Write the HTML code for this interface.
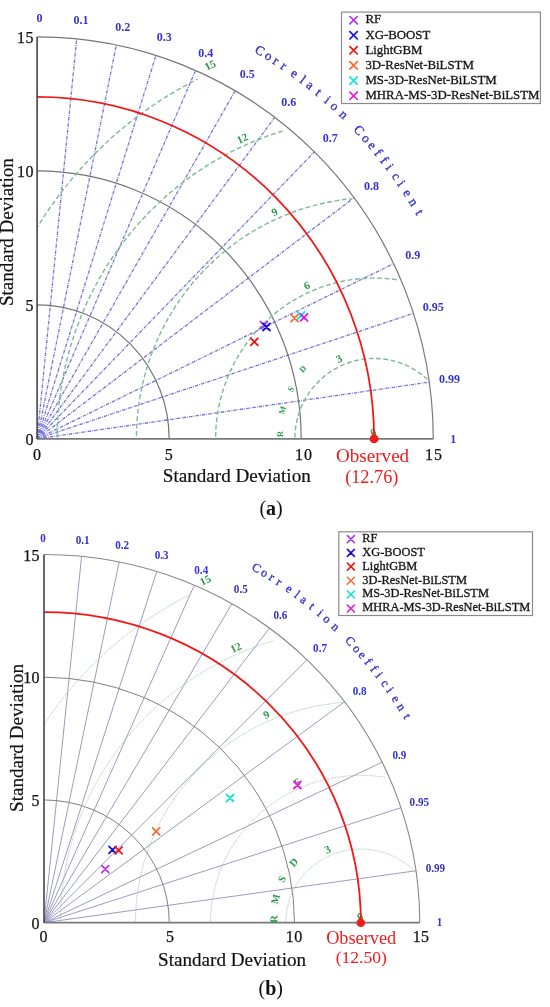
<!DOCTYPE html>
<html><head><meta charset="utf-8"><style>
html,body{margin:0;padding:0;background:#fff;}
svg{display:block;}
text{font-family:"Liberation Serif","DejaVu Serif",serif;}
.cla{stroke:#7474d6;stroke-width:1.3;stroke-dasharray:3.4,1.1,0.8,1.1;fill:none;}
.clb{stroke:#9090bb;stroke-width:0.9;fill:none;}
.saa{stroke:#747474;stroke-width:1.2;fill:none;}
.sab{stroke:#808080;stroke-width:1;fill:none;}
.oaa{stroke:#777;stroke-width:1.2;fill:none;}
.oab{stroke:#888;stroke-width:1.1;fill:none;}
.rma{stroke:#7dbb94;stroke-width:1.4;stroke-dasharray:4.8,2.6;fill:none;}
.rmb{stroke:#94c8a0;stroke-width:1;stroke-dasharray:0.9,0.8;fill:none;}
.oba,.obb{stroke:#f51515;stroke-width:1.8;fill:none;}
.axa,.axb{stroke:#444;stroke-width:1.6;fill:none;}
.bxa,.bxb{stroke:#7a7a7a;stroke-width:1.8;fill:none;}
.rsb{font-size:10.5px !important;}
.cLb{font-size:12px !important;}
.cLa,.cLb{fill:#3434d0;font-size:13.4px;font-weight:bold;text-anchor:middle;dominant-baseline:central;}
.rLa,.rLb{fill:#2a9a4a;font-size:11px;font-weight:bold;text-anchor:middle;dominant-baseline:central;}
.rsa,.rsb{fill:#2a9a4a;font-size:8.5px;font-weight:bold;}
.cca,.ccb{fill:#3535c8;font-size:13px;stroke:#3535c8;stroke-width:0.35px;}
.ccb{font-size:12.2px;}
.lg{fill:#151515;stroke:#151515;stroke-width:0.3px;}
.tk{fill:#111;font-size:16px;stroke:#111;stroke-width:0.25px;}
.ttl{fill:#111;font-size:19.1px;stroke:#111;stroke-width:0.2px;}
.obs{fill:#f01c1c;font-size:18.3px;}
.obsb{fill:#f01c1c;font-size:17.6px;}
.cap{fill:#111;font-size:20px;}
.cap tspan{font-weight:bold;}
</style></head>
<body><svg width="550" height="1007" viewBox="0 0 550 1007">
<rect width="550" height="1007" fill="#fff"/>
<clipPath id="qa"><path d="M37.10,438.80 L37.10,36.95 A396.15,401.85 0 0 1 433.25,438.80 Z"/></clipPath>
<line x1="37.10" y1="438.80" x2="76.72" y2="38.96" class="cla"/>
<line x1="37.10" y1="438.80" x2="116.33" y2="45.07" class="cla"/>
<line x1="37.10" y1="438.80" x2="155.94" y2="55.46" class="cla"/>
<line x1="37.10" y1="438.80" x2="195.56" y2="70.50" class="cla"/>
<line x1="37.10" y1="438.80" x2="235.17" y2="90.79" class="cla"/>
<line x1="37.10" y1="438.80" x2="274.79" y2="117.32" class="cla"/>
<line x1="37.10" y1="438.80" x2="314.41" y2="151.82" class="cla"/>
<line x1="37.10" y1="438.80" x2="354.02" y2="197.69" class="cla"/>
<line x1="37.10" y1="438.80" x2="393.64" y2="263.64" class="cla"/>
<line x1="37.10" y1="438.80" x2="413.44" y2="313.32" class="cla"/>
<line x1="37.10" y1="438.80" x2="429.29" y2="382.11" class="cla"/>
<path d="M37.10,304.85 A132.05,133.95 0 0 1 169.15,438.80" class="saa"/>
<path d="M37.10,170.90 A264.10,267.90 0 0 1 301.20,438.80" class="saa"/>
<clipPath id="qa3"><path d="M37.10,438.80 L37.10,36.95 A396.15,401.85 0 0 1 433.25,438.80 Z"/></clipPath>
<ellipse cx="374.09" cy="438.80" rx="79.23" ry="80.37" class="rma" clip-path="url(#qa3)"/>
<clipPath id="qa6"><path d="M37.10,438.80 L37.10,39.36 A393.77,399.44 0 0 1 430.87,438.80 Z"/></clipPath>
<ellipse cx="374.09" cy="438.80" rx="158.46" ry="160.74" class="rma" clip-path="url(#qa6)"/>
<clipPath id="qa9"><path d="M37.10,438.80 L37.10,39.36 A393.77,399.44 0 0 1 430.87,438.80 Z"/></clipPath>
<ellipse cx="374.09" cy="438.80" rx="237.69" ry="241.11" class="rma" clip-path="url(#qa9)"/>
<clipPath id="qa12"><path d="M37.10,438.80 L37.10,42.58 A390.60,396.22 0 0 1 427.70,438.80 Z"/></clipPath>
<ellipse cx="374.09" cy="438.80" rx="316.92" ry="321.48" class="rma" clip-path="url(#qa12)"/>
<clipPath id="qa15"><path d="M37.10,438.80 L37.10,44.18 A389.02,394.62 0 0 1 426.12,438.80 Z"/></clipPath>
<ellipse cx="374.09" cy="438.80" rx="396.15" ry="401.85" class="rma" clip-path="url(#qa15)"/>
<text x="373.19" y="432.20" class="rLa" transform="rotate(-26.0 373.19 432.20)">0</text>
<text x="338.86" y="358.53" class="rLa" transform="rotate(-26.0 338.86 358.53)">3</text>
<text x="306.63" y="285.10" class="rLa" transform="rotate(-26.0 306.63 285.10)">6</text>
<text x="274.41" y="211.68" class="rLa" transform="rotate(-26.0 274.41 211.68)">9</text>
<text x="242.18" y="138.26" class="rLa" transform="rotate(-26.0 242.18 138.26)">12</text>
<text x="209.96" y="64.84" class="rLa" transform="rotate(-26.0 209.96 64.84)">15</text>
<path d="M37.10,36.95 A396.15,401.85 0 0 1 433.25,438.80" class="oaa"/>
<path d="M37.10,96.96 A336.99,341.84 0 0 1 374.09,438.80" class="oba"/>
<path d="M37.10,438.80 L433.25,438.80" class="bxa"/>
<path d="M37.10,36.95 L37.10,438.80" class="axa"/>
<text transform="translate(39.50 17.89) scale(0.9 1)" class="cLa">0</text>
<text transform="translate(81.11 20.00) scale(0.9 1)" class="cLa">0.1</text>
<text transform="translate(122.70 26.39) scale(0.9 1)" class="cLa">0.2</text>
<text transform="translate(164.26 37.26) scale(0.9 1)" class="cLa">0.3</text>
<text transform="translate(205.79 53.00) scale(0.9 1)" class="cLa">0.4</text>
<text transform="translate(247.29 74.24) scale(0.9 1)" class="cLa">0.5</text>
<text transform="translate(288.75 102.01) scale(0.9 1)" class="cLa">0.6</text>
<text transform="translate(330.17 138.12) scale(0.9 1)" class="cLa">0.7</text>
<text transform="translate(371.52 186.13) scale(0.9 1)" class="cLa">0.8</text>
<text transform="translate(412.75 255.16) scale(0.9 1)" class="cLa">0.9</text>
<text transform="translate(433.26 307.16) scale(0.9 1)" class="cLa">0.95</text>
<text transform="translate(449.50 379.17) scale(0.9 1)" class="cLa">0.99</text>
<text transform="translate(453.32 438.50) scale(0.9 1)" class="cLa">1</text>
<text class="rsa" x="282.64 284.06 292.16 302.67" y="437.33 414.73 392.39 373.34" rotate="-87.2 -72.8 -59.4 -46.1">RMSD</text>
<text class="cca" x="254.08 263.73 272.00 279.64 289.73 298.98 305.20 314.55 323.41 329.47 338.38 348.37 352.90 361.02 367.18 373.77 379.87 385.28 391.20 396.98 402.54 408.25 414.93" y="52.07 57.81 63.00 68.03 75.03 81.82 86.61 94.14 101.68 107.08 115.38 125.25 129.96 138.75 145.73 153.54 161.12 168.14 176.16 184.37 192.66 201.62 212.73" rotate="30.2 31.5 32.7 33.9 35.5 36.9 38.0 39.5 41.0 42.2 43.8 45.2 46.6 48.0 49.2 50.4 51.7 52.8 54.2 55.4 56.8 58.2 59.7">Correlation Coefficient</text>
<clipPath id="qb"><path d="M44.00,922.70 L44.00,554.45 A375.75,368.25 0 0 1 419.75,922.70 Z"/></clipPath>
<line x1="44.00" y1="922.70" x2="81.58" y2="556.30" class="clb"/>
<line x1="44.00" y1="922.70" x2="119.15" y2="561.89" class="clb"/>
<line x1="44.00" y1="922.70" x2="156.72" y2="571.41" class="clb"/>
<line x1="44.00" y1="922.70" x2="194.30" y2="585.19" class="clb"/>
<line x1="44.00" y1="922.70" x2="231.87" y2="603.79" class="clb"/>
<line x1="44.00" y1="922.70" x2="269.45" y2="628.10" class="clb"/>
<line x1="44.00" y1="922.70" x2="307.03" y2="659.72" class="clb"/>
<line x1="44.00" y1="922.70" x2="344.60" y2="701.75" class="clb"/>
<line x1="44.00" y1="922.70" x2="382.18" y2="762.18" class="clb"/>
<line x1="44.00" y1="922.70" x2="400.96" y2="807.71" class="clb"/>
<line x1="44.00" y1="922.70" x2="415.99" y2="870.75" class="clb"/>
<path d="M44.00,799.95 A125.25,122.75 0 0 1 169.25,922.70" class="sab"/>
<path d="M44.00,677.20 A250.50,245.50 0 0 1 294.50,922.70" class="sab"/>
<clipPath id="qb3"><path d="M44.00,922.70 L44.00,554.45 A375.75,368.25 0 0 1 419.75,922.70 Z"/></clipPath>
<ellipse cx="360.88" cy="922.70" rx="75.15" ry="73.65" class="rmb" clip-path="url(#qb3)"/>
<clipPath id="qb6"><path d="M44.00,922.70 L44.00,557.64 A372.49,365.06 0 0 1 416.49,922.70 Z"/></clipPath>
<ellipse cx="360.88" cy="922.70" rx="150.30" ry="147.30" class="rmb" clip-path="url(#qb6)"/>
<clipPath id="qb9"><path d="M44.00,922.70 L44.00,555.68 A374.50,367.02 0 0 1 418.50,922.70 Z"/></clipPath>
<ellipse cx="360.88" cy="922.70" rx="225.45" ry="220.95" class="rmb" clip-path="url(#qb9)"/>
<clipPath id="qb12"><path d="M44.00,922.70 L44.00,561.82 A368.24,360.88 0 0 1 412.24,922.70 Z"/></clipPath>
<ellipse cx="360.88" cy="922.70" rx="300.60" ry="294.60" class="rmb" clip-path="url(#qb12)"/>
<clipPath id="qb15"><path d="M44.00,922.70 L44.00,564.27 A365.73,358.43 0 0 1 409.73,922.70 Z"/></clipPath>
<ellipse cx="360.88" cy="922.70" rx="375.75" ry="368.25" class="rmb" clip-path="url(#qb15)"/>
<text x="359.98" y="916.10" class="rLb" transform="rotate(-26.0 359.98 916.10)">0</text>
<text x="327.46" y="849.14" class="rLb" transform="rotate(-26.0 327.46 849.14)">3</text>
<text x="296.90" y="781.86" class="rLb" transform="rotate(-26.0 296.90 781.86)">6</text>
<text x="266.33" y="714.57" class="rLb" transform="rotate(-26.0 266.33 714.57)">9</text>
<text x="235.76" y="647.29" class="rLb" transform="rotate(-26.0 235.76 647.29)">12</text>
<text x="205.20" y="580.01" class="rLb" transform="rotate(-26.0 205.20 580.01)">15</text>
<path d="M44.00,554.45 A375.75,368.25 0 0 1 419.75,922.70" class="oab"/>
<path d="M44.00,612.14 A316.88,310.56 0 0 1 360.88,922.70" class="obb"/>
<path d="M44.00,922.70 L419.75,922.70" class="bxb"/>
<path d="M44.00,554.45 L44.00,922.70" class="axb"/>
<text transform="translate(43.10 538.05) scale(0.93 1)" class="cLb">0</text>
<text transform="translate(82.61 539.97) scale(0.93 1)" class="cLb">0.1</text>
<text transform="translate(122.14 545.81) scale(0.93 1)" class="cLb">0.2</text>
<text transform="translate(161.68 555.75) scale(0.93 1)" class="cLb">0.3</text>
<text transform="translate(201.23 570.14) scale(0.93 1)" class="cLb">0.4</text>
<text transform="translate(240.81 589.55) scale(0.93 1)" class="cLb">0.5</text>
<text transform="translate(280.40 614.94) scale(0.93 1)" class="cLb">0.6</text>
<text transform="translate(320.03 647.95) scale(0.93 1)" class="cLb">0.7</text>
<text transform="translate(359.69 691.83) scale(0.93 1)" class="cLb">0.8</text>
<text transform="translate(399.42 754.92) scale(0.93 1)" class="cLb">0.9</text>
<text transform="translate(419.35 802.45) scale(0.93 1)" class="cLb">0.95</text>
<text transform="translate(435.39 868.27) scale(0.93 1)" class="cLb">0.99</text>
<text transform="translate(439.54 922.50) scale(0.93 1)" class="cLb">1</text>
<text class="rsb" x="277.17 277.61 283.53 293.70" y="923.06 904.78 883.36 867.52" rotate="-87.6 -74.2 -60.6 -47.5">RMSD</text>
<text class="ccb" x="250.98 260.10 267.92 275.15 284.69 293.42 299.31 308.15 316.52 322.25 330.67 340.08 344.39 352.06 357.87 364.08 369.84 374.94 380.53 385.98 391.23 396.62 402.91" y="569.18 574.48 579.27 583.90 590.33 596.60 600.98 607.93 614.86 619.80 627.43 636.55 640.81 648.90 655.32 662.51 669.47 675.92 683.26 690.83 698.41 706.63 716.85" rotate="30.4 31.7 32.9 34.1 35.7 37.1 38.2 39.7 41.2 42.4 44.0 45.4 46.8 48.2 49.4 50.6 51.9 53.0 54.4 55.6 57.0 58.4 59.9">Correlation Coefficient</text>
<path d="M260.40,321.60 L267.40,328.60 M260.40,328.60 L267.40,321.60" stroke="#b434f0" stroke-width="1.9" stroke-linecap="round" fill="none"/>
<path d="M263.00,323.50 L270.00,330.50 M263.00,330.50 L270.00,323.50" stroke="#1212e0" stroke-width="1.9" stroke-linecap="round" fill="none"/>
<path d="M250.80,338.30 L257.80,345.30 M250.80,345.30 L257.80,338.30" stroke="#f41414" stroke-width="1.9" stroke-linecap="round" fill="none"/>
<path d="M291.00,314.60 L298.00,321.60 M291.00,321.60 L298.00,314.60" stroke="#fa6a36" stroke-width="1.9" stroke-linecap="round" fill="none"/>
<path d="M297.60,312.00 L304.60,319.00 M297.60,319.00 L304.60,312.00" stroke="#18e4dc" stroke-width="1.9" stroke-linecap="round" fill="none"/>
<path d="M300.50,313.80 L307.50,320.80 M300.50,320.80 L307.50,313.80" stroke="#e818e0" stroke-width="1.9" stroke-linecap="round" fill="none"/>
<path d="M101.80,865.70 L108.80,872.70 M101.80,872.70 L108.80,865.70" stroke="#b434f0" stroke-width="1.8" stroke-linecap="round" fill="none"/>
<path d="M109.00,846.40 L116.00,853.40 M109.00,853.40 L116.00,846.40" stroke="#1212e0" stroke-width="1.8" stroke-linecap="round" fill="none"/>
<path d="M115.20,846.90 L122.20,853.90 M115.20,853.90 L122.20,846.90" stroke="#f41414" stroke-width="1.8" stroke-linecap="round" fill="none"/>
<path d="M152.70,827.80 L159.70,834.80 M152.70,834.80 L159.70,827.80" stroke="#fa6a36" stroke-width="1.8" stroke-linecap="round" fill="none"/>
<path d="M226.50,794.50 L233.50,801.50 M226.50,801.50 L233.50,794.50" stroke="#18e4dc" stroke-width="1.8" stroke-linecap="round" fill="none"/>
<path d="M293.90,781.50 L300.90,788.50 M293.90,788.50 L300.90,781.50" stroke="#e818e0" stroke-width="1.8" stroke-linecap="round" fill="none"/>
<circle cx="374.1" cy="438.9" r="4.4" fill="#f01c1c"/>
<circle cx="360.8" cy="922.7" r="4.3" fill="#f01c1c"/>
<rect x="341.5" y="12.1" width="198.90" height="91.40" fill="#fff" stroke="#8a8a8a" stroke-width="1.2"/>
<path d="M349.90,16.50 L357.30,23.90 M349.90,23.90 L357.30,16.50" stroke="#b434f0" stroke-width="1.7" stroke-linecap="round" fill="none"/>
<text x="365.4" y="23.3" class="lg" style="font-size:12.85px">RF</text>
<path d="M349.90,31.60 L357.30,39.00 M349.90,39.00 L357.30,31.60" stroke="#1212e0" stroke-width="1.7" stroke-linecap="round" fill="none"/>
<text x="365.4" y="38.5" class="lg" style="font-size:12.85px">XG-BOOST</text>
<path d="M349.90,46.60 L357.30,54.00 M349.90,54.00 L357.30,46.60" stroke="#f41414" stroke-width="1.7" stroke-linecap="round" fill="none"/>
<text x="365.4" y="53.6" class="lg" style="font-size:12.85px">LightGBM</text>
<path d="M349.90,61.70 L357.30,69.10 M349.90,69.10 L357.30,61.70" stroke="#fa6a36" stroke-width="1.7" stroke-linecap="round" fill="none"/>
<text x="365.4" y="68.5" class="lg" style="font-size:12.85px">3D-ResNet-BiLSTM</text>
<path d="M349.90,76.90 L357.30,84.30 M349.90,84.30 L357.30,76.90" stroke="#18e4dc" stroke-width="1.7" stroke-linecap="round" fill="none"/>
<text x="365.4" y="83.6" class="lg" style="font-size:12.85px">MS-3D-ResNet-BiLSTM</text>
<path d="M349.90,92.10 L357.30,99.50 M349.90,99.50 L357.30,92.10" stroke="#e818e0" stroke-width="1.7" stroke-linecap="round" fill="none"/>
<text x="365.4" y="98.7" class="lg" style="font-size:12.85px">MHRA-MS-3D-ResNet-BiLSTM</text>
<rect x="338.8" y="531.8" width="193.70" height="83.70" fill="#fff" stroke="#8a8a8a" stroke-width="1.2"/>
<path d="M347.40,535.60 L354.40,542.60 M347.40,542.60 L354.40,535.60" stroke="#b434f0" stroke-width="1.6" stroke-linecap="round" fill="none"/>
<text x="362.3" y="542.1" class="lg" style="font-size:12.4px">RF</text>
<path d="M347.40,549.40 L354.40,556.40 M347.40,556.40 L354.40,549.40" stroke="#1212e0" stroke-width="1.6" stroke-linecap="round" fill="none"/>
<text x="362.3" y="556.1" class="lg" style="font-size:12.4px">XG-BOOST</text>
<path d="M347.40,563.10 L354.40,570.10 M347.40,570.10 L354.40,563.10" stroke="#f41414" stroke-width="1.6" stroke-linecap="round" fill="none"/>
<text x="362.3" y="569.8" class="lg" style="font-size:12.4px">LightGBM</text>
<path d="M347.40,577.20 L354.40,584.20 M347.40,584.20 L354.40,577.20" stroke="#fa6a36" stroke-width="1.6" stroke-linecap="round" fill="none"/>
<text x="362.3" y="583.6" class="lg" style="font-size:12.4px">3D-ResNet-BiLSTM</text>
<path d="M347.40,591.00 L354.40,598.00 M347.40,598.00 L354.40,591.00" stroke="#18e4dc" stroke-width="1.6" stroke-linecap="round" fill="none"/>
<text x="362.3" y="597.3" class="lg" style="font-size:12.4px">MS-3D-ResNet-BiLSTM</text>
<path d="M347.40,605.00 L354.40,612.00 M347.40,612.00 L354.40,605.00" stroke="#e818e0" stroke-width="1.6" stroke-linecap="round" fill="none"/>
<text x="362.3" y="611.1" class="lg" style="font-size:12.4px">MHRA-MS-3D-ResNet-BiLSTM</text>
<text x="37.1" y="454.5" class="tk" style="letter-spacing:0px" text-anchor="middle" dominant-baseline="central">0</text>
<text x="168.7" y="454.5" class="tk" style="letter-spacing:0px" text-anchor="middle" dominant-baseline="central">5</text>
<text x="304.0" y="454.5" class="tk" style="letter-spacing:1.0px" text-anchor="middle" dominant-baseline="central">10</text>
<text x="434.1" y="454.5" class="tk" style="letter-spacing:1.0px" text-anchor="middle" dominant-baseline="central">15</text>
<text x="33.6" y="439.8" class="tk" style="letter-spacing:0px" text-anchor="end" dominant-baseline="central">0</text>
<text x="33.6" y="305.85" class="tk" style="letter-spacing:0px" text-anchor="end" dominant-baseline="central">5</text>
<text x="34.2" y="171.90000000000003" class="tk" style="letter-spacing:0.6px" text-anchor="end" dominant-baseline="central">10</text>
<text x="34.2" y="37.950000000000045" class="tk" style="letter-spacing:0.6px" text-anchor="end" dominant-baseline="central">15</text>
<text x="236.8" y="475.3" class="ttl" text-anchor="middle" dominant-baseline="central">Standard Deviation</text>
<text x="6.6" y="232.1" class="ttl" text-anchor="middle" dominant-baseline="central" transform="rotate(-90 6.6 232.1)">Standard Deviation</text>
<text x="372.6" y="455" class="obs" style="font-size:19.1px" text-anchor="middle" dominant-baseline="central">Observed</text>
<text x="371.8" y="476.7" class="obs" text-anchor="middle" dominant-baseline="central">(12.76)</text>
<text x="271.1" y="508.2" class="cap" text-anchor="middle" dominant-baseline="central">(<tspan>a</tspan>)</text>
<text x="43.5" y="936.4" class="tk" style="letter-spacing:0px" text-anchor="middle" dominant-baseline="central">0</text>
<text x="170.0" y="936.4" class="tk" style="letter-spacing:0px" text-anchor="middle" dominant-baseline="central">5</text>
<text x="294.15" y="936.4" class="tk" style="letter-spacing:0.3px" text-anchor="middle" dominant-baseline="central">10</text>
<text x="420.95" y="936.4" class="tk" style="letter-spacing:0.3px" text-anchor="middle" dominant-baseline="central">15</text>
<text x="39.6" y="923.4000000000001" class="tk" style="letter-spacing:0px" text-anchor="end" dominant-baseline="central">0</text>
<text x="39.6" y="800.6500000000001" class="tk" style="letter-spacing:0px" text-anchor="end" dominant-baseline="central">5</text>
<text x="39.9" y="677.9000000000001" class="tk" style="letter-spacing:0.3px" text-anchor="end" dominant-baseline="central">10</text>
<text x="39.9" y="555.1500000000001" class="tk" style="letter-spacing:0.3px" text-anchor="end" dominant-baseline="central">15</text>
<text x="232.1" y="959.2" class="ttl" text-anchor="middle" dominant-baseline="central">Standard Deviation</text>
<text x="16.6" y="738" class="ttl" text-anchor="middle" dominant-baseline="central" transform="rotate(-90 16.6 738)">Standard Deviation</text>
<text x="361.2" y="938.2" class="obsb" style="font-size:18.3px" text-anchor="middle" dominant-baseline="central">Observed</text>
<text x="361.3" y="957" class="obsb" text-anchor="middle" dominant-baseline="central">(12.50)</text>
<text x="270.7" y="988.3" class="cap" text-anchor="middle" dominant-baseline="central">(<tspan>b</tspan>)</text>
</svg></body></html>
